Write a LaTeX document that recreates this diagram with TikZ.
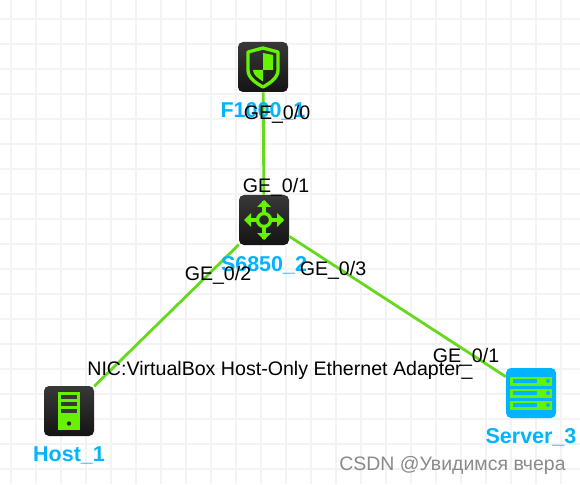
\documentclass[tikz,border=0pt]{standalone}
\usepackage{fontspec}
\setmainfont{Liberation Sans}
\definecolor{linkgreen}{HTML}{66D91E}
\definecolor{icongreen}{HTML}{66F200}
\definecolor{nameblue}{HTML}{00B4FF}
\definecolor{gridgrey}{HTML}{F3F3F3}
\definecolor{markgrey}{HTML}{8A8A8A}
\tikzset{
  darkicon/.style={minimum size=37.5pt,inner sep=0pt,rounded corners=3.75pt,top color=black!78,bottom color=black!92},
  blueicon/.style={minimum size=37.5pt,inner sep=0pt,rounded corners=3.75pt,fill=nameblue},
  link/.style={draw=linkgreen,line width=2.1pt},
  portlabel/.style={inner sep=0pt,text=black,font=\fontsize{14.7pt}{17pt}\selectfont},
  devname/.style={inner sep=0pt,text=nameblue,font=\fontsize{16.1pt}{18pt}\selectfont\bfseries},
  gridline/.style={draw=gridgrey,line width=1.5pt},
  glyph/.style={draw=icongreen,line width=2.5pt},
  watermark/.style={inner sep=0pt,text=markgrey,font=\fontsize{14.6pt}{15pt}\selectfont}
}
\begin{document}
\begin{tikzpicture}[x=0.75pt,y=-0.75pt]
\useasboundingbox (0,0) rectangle (580,484);
\fill[white] (0,0) rectangle (580,484);
\foreach \gx in {10,35,...,560} \draw[gridline] (\gx+0.5,0) -- (\gx+0.5,484);
\foreach \gy in {19,44,...,469} \draw[gridline] (0,\gy) -- (580,\gy);

\node[darkicon] (fw) at (263,67) {};
\node[darkicon] (sw) at (264,220) {};
\node[darkicon] (host) at (69,411) {};
\node[blueicon] (srv) at (531,393) {};

\draw[link] (fw) -- (sw);
\draw[link] (sw) -- (host);
\draw[link] (sw) -- (srv);

% firewall glyph
\begin{scope}[shift={(fw.center)}]
  \draw[glyph,line join=round] (-15,-15) -- (0,-19) -- (15,-15) -- (15,3) .. controls (15,11) and (7,16) .. (0,20) .. controls (-7,16) and (-15,11) .. (-15,3) -- cycle;
  \fill[icongreen] (0,-14) -- (10,-12) -- (10,3) -- (0,3) -- cycle;
  \fill[icongreen] (0,3) -- (-10,3) .. controls (-10,8) and (-5,11) .. (0,14.5) -- cycle;
\end{scope}

% router glyph
\begin{scope}[shift={(sw.center)}]
  \draw[glyph] (0,0) circle (6.5);
  \foreach \a in {0,90,180,270} {
    \begin{scope}[rotate=\a]
      \draw[glyph] (7,0) -- (18.5,0);
      \fill[icongreen] (20,0) -- (13,-7) -- (13,7) -- cycle;
    \end{scope}
  }
\end{scope}

% host glyph
\begin{scope}[shift={(host.center)}]
  \fill[icongreen] (-11,-19) rectangle (11,19);
  \fill[black!78] (-8,-16) rectangle (8,-12);
  \fill[black!78] (-8,-9) rectangle (8,-5);
  \fill[black!78] (-8,-2) rectangle (8,2);
  \fill[black!85] (0,12.5) circle (2.2);
\end{scope}

% server glyph
\begin{scope}[shift={(srv.center)}]
  \foreach \dy in {-12,0,12} {
    \fill[icongreen] (-21,\dy-4.5) rectangle (21,\dy+4.5);
    \fill[nameblue] (-18,\dy-1.6) rectangle (6,\dy+1.6);
    \fill[nameblue] (17,\dy) circle (2);
  }
\end{scope}

\node[devname] (n1) at (263,111) {F1000\_1};
\node[devname] (n2) at (264,265) {S6850\_2};
\node[devname] (n3) at (69,455) {Host\_1};
\node[devname] (n4) at (531,437) {Server\_3};

\node[portlabel] (p1) at (277,114) {GE\_0/0};
\node[portlabel] (p2) at (276,187) {GE\_0/1};
\node[portlabel] (p3) at (218,275) {GE\_0/2};
\node[portlabel] (p4) at (333,270) {GE\_0/3};
\node[portlabel] (p5) at (466,357) {GE\_0/1};
\node[portlabel] (p6) at (280,370) {NIC:VirtualBox Host-Only Ethernet Adapter\_};

\node[watermark] (wm) at (452.5,465) {CSDN @Увидимся вчера};
\end{tikzpicture}
\end{document}
